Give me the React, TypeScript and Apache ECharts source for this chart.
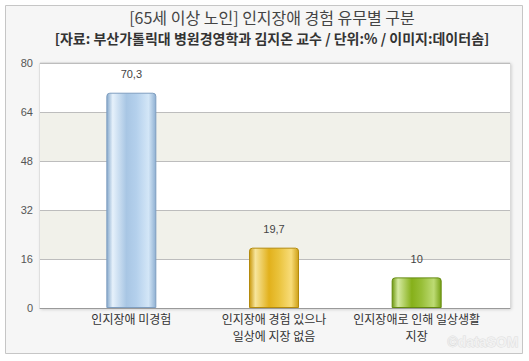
import React, { useEffect, useRef } from "react";
import * as echarts from "echarts";

const categories = ["인지장애 미경험", "인지장애 경험 있으나\n일상에 지장 없음", "인지장애로 인해 일상생활\n지장"];
const values = [70.3, 19.7, 10];
const yTicks = { min: 0, max: 80, interval: 16 };
const title = "[65세 이상 노인] 인지장애 경험 유무별 구분";
const subtitle = "[자료: 부산가톨릭대 병원경영학과 김지온 교수 / 단위:% / 이미지:데이터솜]";

const barGradients = [
  ["#86a9cc", "#e6f1fb", "#a8c6e4", "#b4d0ec", "#d3e6f7", "#8fb0d2"],
  ["#c9980e", "#f7e59c", "#e2b11c", "#eac33c", "#f8dc78", "#cfa117"],
  ["#6f9a12", "#d5eaa0", "#86b01a", "#98bf38", "#bddb74", "#77a216"],
];
const barBorders = ["#7f9ec0", "#b48a0c", "#648a0e"];

function grad(c: string[]) {
  return new echarts.graphic.LinearGradient(0, 0, 1, 0, [
    { offset: 0, color: c[0] },
    { offset: 0.12, color: c[1] },
    { offset: 0.4, color: c[2] },
    { offset: 0.6, color: c[3] },
    { offset: 0.85, color: c[4] },
    { offset: 1, color: c[5] },
  ]);
}

export default function App() {
  const ref = useRef<HTMLDivElement>(null);
  useEffect(() => {
    if (!ref.current) return;
    const chart = echarts.init(ref.current, null, { renderer: "svg" });
    const font = "'Noto Sans CJK KR', 'Noto Sans', sans-serif";
    chart.setOption({
      animation: false,
      backgroundColor: "#ffffff",
      textStyle: { fontFamily: font },
      graphic: [
        {
          type: "rect",
          z: -100,
          shape: { x: 5.5, y: 5.5, width: 517, height: 348 },
          style: { fill: "#f6f6f6", stroke: "#c6c6c6", lineWidth: 1 },
        },
        {
          type: "text",
          x: 272,
          y: 17,
          style: {
            text: title,
            textAlign: "center",
            textVerticalAlign: "middle",
            fontSize: 16,
            fill: "#444444",
            fontFamily: font,
          },
        },
        {
          type: "text",
          x: 272,
          y: 38,
          style: {
            text: subtitle,
            textAlign: "center",
            textVerticalAlign: "middle",
            fontSize: 14,
            fontWeight: "bold",
            fill: "#333333",
            fontFamily: font,
          },
        },
        {
          type: "text",
          x: 483,
          y: 342,
          style: {
            text: "©dataSOM",
            textAlign: "center",
            textVerticalAlign: "middle",
            fontSize: 14,
            fontWeight: "bold",
            fill: "#f1f1f1",
            stroke: "#dedede",
            lineWidth: 1,
            fontFamily: "'Liberation Sans', sans-serif",
          },
        },
      ],
      grid: [
        {
          left: 40,
          right: 19,
          top: 63,
          bottom: 53,
          show: true,
          backgroundColor: "#ffffff",
          borderColor: "#cfcfcf",
          borderWidth: 1,
          shadowColor: "rgba(0,0,0,0.18)",
          shadowBlur: 3,
          shadowOffsetX: 1,
          shadowOffsetY: 1,
        },
        { left: 60, right: 41, top: 63, bottom: 53 },
      ],
      xAxis: [
        {
          gridIndex: 0,
          type: "category",
          data: [""],
          axisLabel: { show: false },
          axisTick: { show: false },
          axisLine: { lineStyle: { color: "#9a9a9a", width: 1 } },
        },
        {
          gridIndex: 1,
          type: "category",
          data: categories,
          axisLine: { show: false },
          axisTick: { show: false },
          axisLabel: {
            fontSize: 12,
            color: "#333333",
            lineHeight: 17,
            margin: 2,
            interval: 0,
            fontFamily: font,
          },
        },
      ],
      yAxis: [
        {
          gridIndex: 0,
          type: "value",
          min: yTicks.min,
          max: yTicks.max,
          interval: yTicks.interval,
          axisLine: { show: false },
          axisTick: { show: false },
          axisLabel: {
            fontSize: 11,
            color: "#555555",
            margin: 7,
            fontFamily: "'Liberation Sans', sans-serif",
          },
          splitLine: { lineStyle: { color: "#bdbdbd", width: 1 } },
          splitArea: { show: true, areaStyle: { color: ["#ffffff", "#f1f1ea"] } },
        },
        {
          gridIndex: 1,
          type: "value",
          min: yTicks.min,
          max: yTicks.max,
          interval: yTicks.interval,
          show: false,
          splitLine: { show: false },
        },
      ],
      series: [
        {
          type: "bar",
          xAxisIndex: 1,
          yAxisIndex: 1,
          barWidth: 50,
          data: values.map((v, i) => ({
            value: v,
            itemStyle: {
              color: grad(barGradients[i]),
              borderColor: barBorders[i],
              borderWidth: 1,
              borderRadius: [3, 3, 0, 0],
            },
          })),
          label: {
            show: true,
            position: "top",
            distance: 13,
            fontSize: 11,
            color: "#444444",
            fontFamily: "'Liberation Sans', sans-serif",
            formatter: (p: any) => String(p.value).replace(".", ","),
          },
        },
      ],
    });
    return () => chart.dispose();
  }, []);
  return <div ref={ref} style={{ position: "absolute", left: 0, top: 0, width: 529, height: 361 }} />;
}
